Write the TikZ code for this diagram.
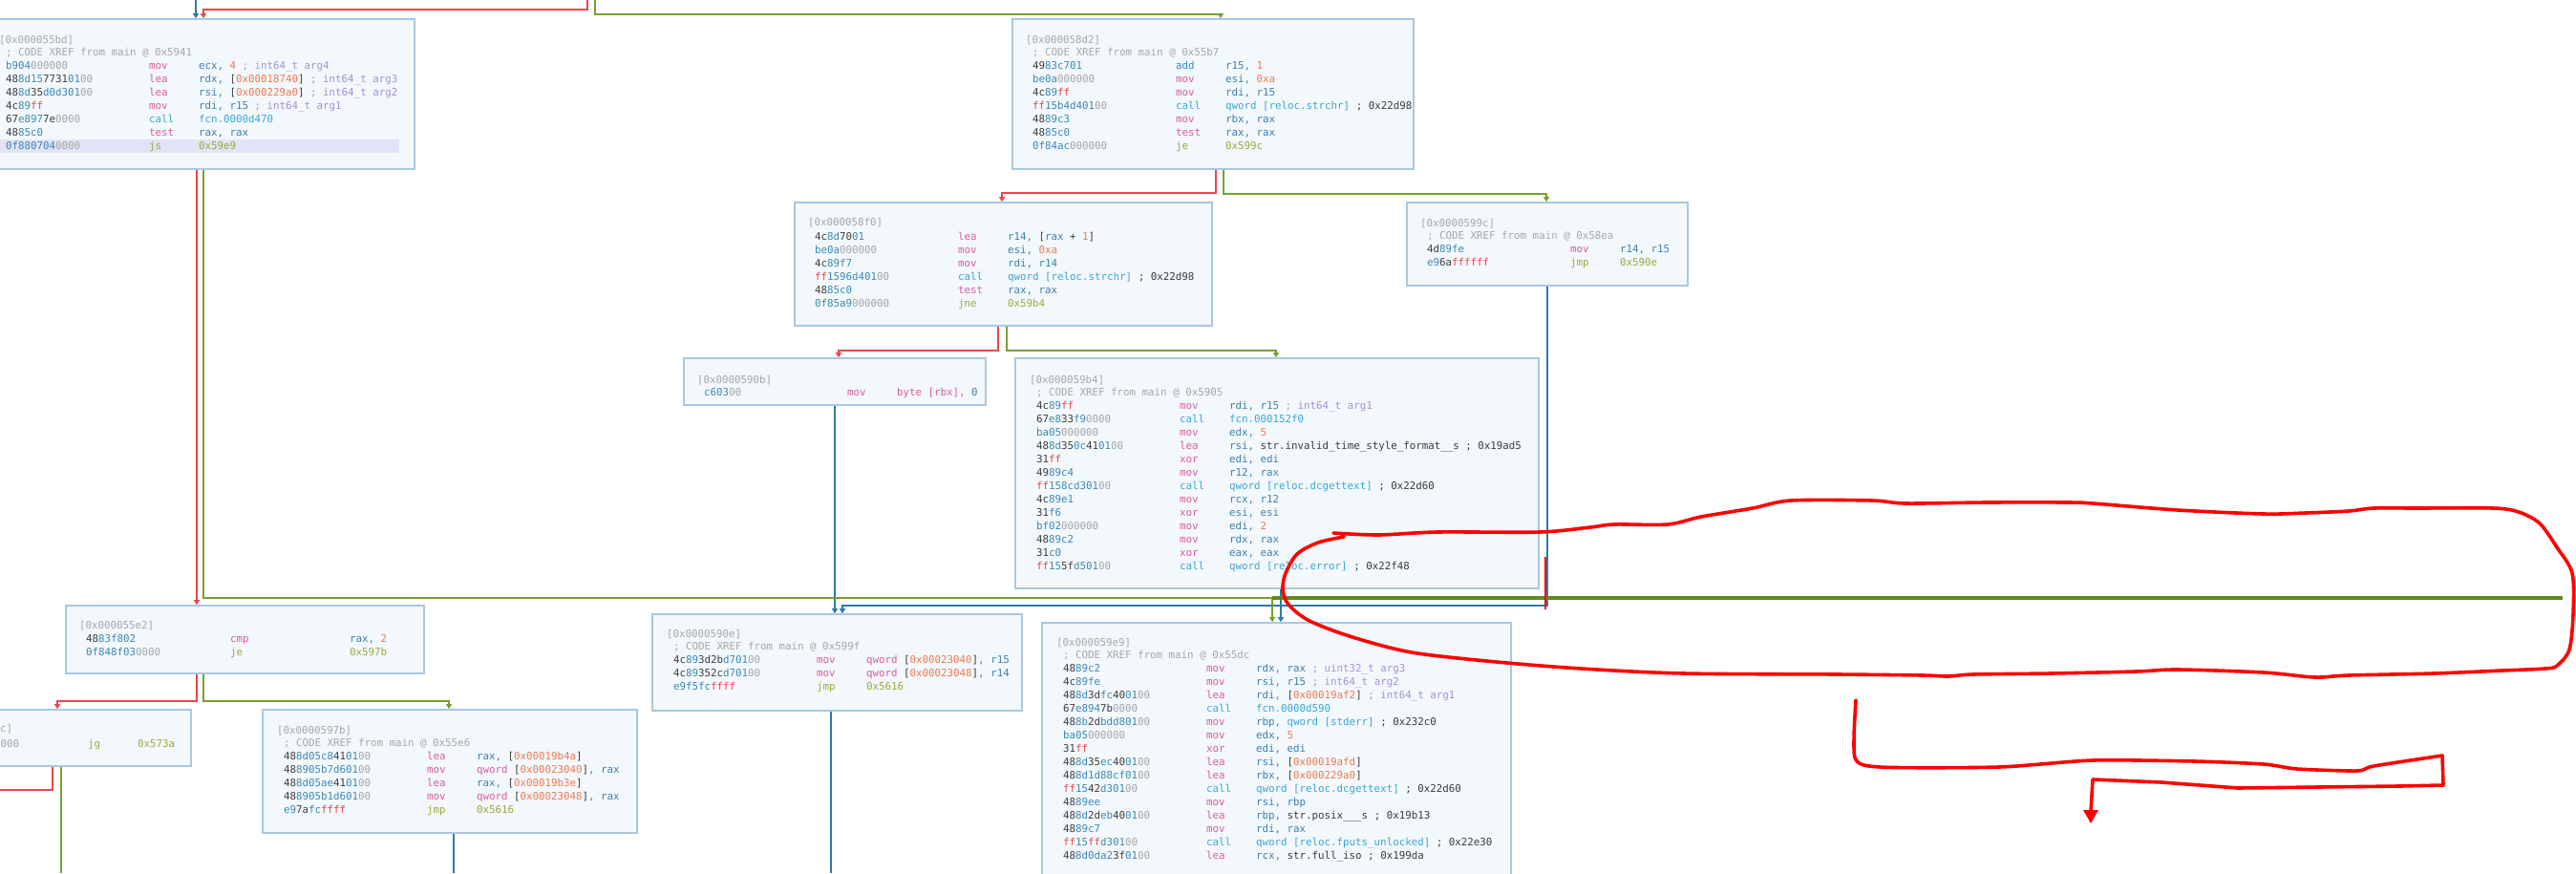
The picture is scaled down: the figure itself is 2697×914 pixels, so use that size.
\documentclass[tikz,border=0pt]{standalone}
\usepackage{fontspec}
\setmonofont{DejaVu Sans Mono}
\usetikzlibrary{arrows.meta,fit}
\definecolor{hgray}{HTML}{A4A4A4}
\definecolor{hred}{HTML}{E5484D}
\definecolor{hdark}{HTML}{3C3C3C}
\definecolor{hblue}{HTML}{3A88B5}
\definecolor{kpink}{HTML}{DC5AA0}
\definecolor{kcall}{HTML}{3AA6D6}
\definecolor{kjmp}{HTML}{8FAF3A}
\definecolor{kadd}{HTML}{2E86C1}
\definecolor{kreg}{HTML}{3C7FAE}
\definecolor{knum}{HTML}{F07850}
\definecolor{kcom}{HTML}{A58FD8}
\definecolor{kdk}{HTML}{3A3A3A}
\definecolor{khdr}{HTML}{A6A6A6}
\definecolor{boxfill}{HTML}{F3F8FC}
\definecolor{boxline}{HTML}{A9C7E0}
\definecolor{hlcol}{HTML}{E3E3F7}
\definecolor{cblue}{HTML}{2C7BAA}
\definecolor{cred}{HTML}{E8474C}
\definecolor{cgreen}{HTML}{78A030}
\definecolor{cgreendk}{HTML}{5E8A1E}
\definecolor{scrib}{HTML}{FF0000}
\makeatletter
\def\hxstop{\hxstop}
\def\hx@zz{00}\def\hx@ff{ff}
\newcommand\Hx[1]{\hx@loop#1\hxstop\hxstop}
\def\hx@loop#1#2{%
  \ifx\hxstop#1%
  \else
    \hx@pair#1#2%
    \expandafter\hx@loop
  \fi}
\def\hx@pair#1#2{%
  \def\hx@a{#1#2}%
  \ifx\hx@a\hx@zz \textcolor{hgray}{#1#2}%
  \else\ifx\hx@a\hx@ff \textcolor{hred}{#1#2}%
  \else\ifnum`#1>`1 \ifnum`#1<`8 \textcolor{hdark}{#1#2}\else\textcolor{hblue}{#1#2}\fi
  \else\textcolor{hblue}{#1#2}\fi\fi\fi}
\makeatother
\newcommand\kMov[1]{\textcolor{kpink}{#1}}
\newcommand\kCall[1]{\textcolor{kcall}{#1}}
\newcommand\kJmp[1]{\textcolor{kjmp}{#1}}
\newcommand\kAdd[1]{\textcolor{kadd}{#1}}
\newcommand\kReg[1]{\textcolor{kreg}{#1}}
\newcommand\kNum[1]{\textcolor{knum}{#1}}
\newcommand\kCom[1]{\textcolor{kcom}{#1}}
\newcommand\kDk[1]{\textcolor{kdk}{#1}}
\newcommand\kFn[1]{\textcolor{kcall}{#1}}
\newcommand\kAd[1]{\kDk{[}\kNum{#1}\kDk{]}}
\newcommand\LL[3]{\makebox[150pt][l]{\Hx{#1}}\makebox[52pt][l]{#2}#3}
\newcommand\LLw[3]{\makebox[151pt][l]{\Hx{#1}}\makebox[125pt][l]{#2}#3}
\tikzset{
  code/.style={anchor=west,inner sep=0pt,text height=7.8pt,text depth=0pt,
    font=\ttfamily\fontsize{10.8}{13}\selectfont},
  hdr/.style={code,text=khdr},
  blk/.style={draw=boxline,fill=boxfill,line width=1.6pt,inner sep=0pt},
  tipx/.style={-{Triangle[width=6pt,length=5pt]}},
  eblue/.style={draw=cblue,line width=2.6pt},
  ered/.style={draw=cred,line width=2.6pt},
  egreen/.style={draw=cgreen,line width=2.6pt},
  scribble/.style={draw=scrib,line width=3.6pt,line cap=round,line join=round}
}
\begin{document}
\begin{tikzpicture}[x=1pt,y=-1pt]
\useasboundingbox (0,0) rectangle (2697,914);
\clip (0,0) rectangle (2697,914);
\fill[white] (0,0) rectangle (2697,914);

% ---------- boxes ----------
\coordinate (Anw) at (-15,20);   \coordinate (Ase) at (434,177);
\coordinate (Bnw) at (1060,20);  \coordinate (Bse) at (1480,177);
\coordinate (Cnw) at (832,212);  \coordinate (Cse) at (1269,341);
\coordinate (Dnw) at (1473,212); \coordinate (Dse) at (1767,299);
\coordinate (Enw) at (716,375);  \coordinate (Ese) at (1032,424);
\coordinate (Fnw) at (1063,375); \coordinate (Fse) at (1611,616);
\coordinate (Gnw) at (69,634);   \coordinate (Gse) at (444,705);
\coordinate (Hnw) at (-140,743); \coordinate (Hse) at (200,802);
\coordinate (Inw) at (275,743);  \coordinate (Ise) at (667,872);
\coordinate (Knw) at (683,643);  \coordinate (Kse) at (1070,744);
\coordinate (Jnw) at (1091,652); \coordinate (Jse) at (1582,950);
\foreach \b in {A,B,C,D,E,F,G,H,I,K,J}{\node[blk,fit=(\b nw)(\b se)] (\b) {};}
\fill[hlcol] (-10,146) rectangle (418,160);

% ---------- block A 0x55bd ----------
\node[hdr] (Ah) at (-1,42) {[0x000055bd]};
\node[hdr] (Ax) at (6,55) {; CODE XREF from main @ 0x5941};
\node[code] (A1) at (6,69) {\LL{b904000000}{\kMov{mov}}{\kReg{ecx,} \kNum{4} \kCom{; int64\_t arg4}}};
\node[code] (A2) at (6,83) {\LL{488d1577310100}{\kMov{lea}}{\kReg{rdx,} \kAd{0x00018740} \kCom{; int64\_t arg3}}};
\node[code] (A3) at (6,97) {\LL{488d35d0d30100}{\kMov{lea}}{\kReg{rsi,} \kAd{0x000229a0} \kCom{; int64\_t arg2}}};
\node[code] (A4) at (6,111) {\LL{4c89ff}{\kMov{mov}}{\kReg{rdi, r15} \kCom{; int64\_t arg1}}};
\node[code] (A5) at (6,125) {\LL{67e8977e0000}{\kCall{call}}{\kFn{fcn.0000d470}}};
\node[code] (A6) at (6,139) {\LL{4885c0}{\kMov{test}}{\kReg{rax, rax}}};
\node[code] (A7) at (6,153) {\LL{0f8807040000}{\kJmp{js}}{\kJmp{0x59e9}}};

% ---------- block B 0x58d2 ----------
\node[hdr] (Bh) at (1074,42) {[0x000058d2]};
\node[hdr] (Bx) at (1081,55) {; CODE XREF from main @ 0x55b7};
\node[code] (B1) at (1081,69) {\LL{4983c701}{\kAdd{add}}{\kReg{r15,} \kNum{1}}};
\node[code] (B2) at (1081,83) {\LL{be0a000000}{\kMov{mov}}{\kReg{esi,} \kNum{0xa}}};
\node[code] (B3) at (1081,97) {\LL{4c89ff}{\kMov{mov}}{\kReg{rdi, r15}}};
\node[code] (B4) at (1081,111) {\LL{ff15b4d40100}{\kCall{call}}{\kFn{qword [reloc.strchr]} \kDk{; 0x22d98}}};
\node[code] (B5) at (1081,125) {\LL{4889c3}{\kMov{mov}}{\kReg{rbx, rax}}};
\node[code] (B6) at (1081,139) {\LL{4885c0}{\kMov{test}}{\kReg{rax, rax}}};
\node[code] (B7) at (1081,153) {\LL{0f84ac000000}{\kJmp{je}}{\kJmp{0x599c}}};

% ---------- block C 0x58f0 ----------
\node[hdr] (Ch) at (846,233) {[0x000058f0]};
\node[code] (C1) at (853,248) {\LL{4c8d7001}{\kMov{lea}}{\kReg{r14,} \kDk{[}\kReg{rax} \kDk{+} \kNum{1}\kDk{]}}};
\node[code] (C2) at (853,262) {\LL{be0a000000}{\kMov{mov}}{\kReg{esi,} \kNum{0xa}}};
\node[code] (C3) at (853,276) {\LL{4c89f7}{\kMov{mov}}{\kReg{rdi, r14}}};
\node[code] (C4) at (853,290) {\LL{ff1596d40100}{\kCall{call}}{\kFn{qword [reloc.strchr]} \kDk{; 0x22d98}}};
\node[code] (C5) at (853,304) {\LL{4885c0}{\kMov{test}}{\kReg{rax, rax}}};
\node[code] (C6) at (853,318) {\LL{0f85a9000000}{\kJmp{jne}}{\kJmp{0x59b4}}};

% ---------- block D 0x599c ----------
\node[hdr] (Dh) at (1487,234) {[0x0000599c]};
\node[hdr] (Dx) at (1494,247) {; CODE XREF from main @ 0x58ea};
\node[code] (D1) at (1494,261) {\LL{4d89fe}{\kMov{mov}}{\kReg{r14, r15}}};
\node[code] (D2) at (1494,275) {\LL{e96affffff}{\kJmp{jmp}}{\kJmp{0x590e}}};

% ---------- block E 0x590b ----------
\node[hdr] (Eh) at (730,398) {[0x0000590b]};
\node[code] (E1) at (737,411) {\LL{c60300}{\kMov{mov}}{\kMov{byte [rbx],} \kReg{0}}};

% ---------- block F 0x59b4 ----------
\node[hdr] (Fh) at (1078,398) {[0x000059b4]};
\node[hdr] (Fx) at (1085,411) {; CODE XREF from main @ 0x5905};
\node[code] (F1) at (1085,425) {\LL{4c89ff}{\kMov{mov}}{\kReg{rdi, r15} \kCom{; int64\_t arg1}}};
\node[code] (F2) at (1085,439) {\LL{67e833f90000}{\kCall{call}}{\kFn{fcn.000152f0}}};
\node[code] (F3) at (1085,453) {\LL{ba05000000}{\kMov{mov}}{\kReg{edx,} \kNum{5}}};
\node[code] (F4) at (1085,467) {\LL{488d350c410100}{\kMov{lea}}{\kReg{rsi,} \kDk{str.invalid\_time\_style\_format\_\_s ; 0x19ad5}}};
\node[code] (F5) at (1085,481) {\LL{31ff}{\kMov{xor}}{\kReg{edi, edi}}};
\node[code] (F6) at (1085,495) {\LL{4989c4}{\kMov{mov}}{\kReg{r12, rax}}};
\node[code] (F7) at (1085,509) {\LL{ff158cd30100}{\kCall{call}}{\kFn{qword [reloc.dcgettext]} \kDk{; 0x22d60}}};
\node[code] (F8) at (1085,523) {\LL{4c89e1}{\kMov{mov}}{\kReg{rcx, r12}}};
\node[code] (F9) at (1085,537) {\LL{31f6}{\kMov{xor}}{\kReg{esi, esi}}};
\node[code] (F10) at (1085,551) {\LL{bf02000000}{\kMov{mov}}{\kReg{edi,} \kNum{2}}};
\node[code] (F11) at (1085,565) {\LL{4889c2}{\kMov{mov}}{\kReg{rdx, rax}}};
\node[code] (F12) at (1085,579) {\LL{31c0}{\kMov{xor}}{\kReg{eax, eax}}};
\node[code] (F13) at (1085,593) {\LL{ff155fd50100}{\kCall{call}}{\kFn{qword [reloc.error]} \kDk{; 0x22f48}}};

% ---------- block G 0x55e2 ----------
\node[hdr] (Gh) at (83,655) {[0x000055e2]};
\node[code] (G1) at (90,669) {\LLw{4883f802}{\kMov{cmp}}{\kReg{rax,} \kNum{2}}};
\node[code] (G2) at (90,683) {\LLw{0f848f030000}{\kJmp{je}}{\kJmp{0x597b}}};

% ---------- block H 0x55ec ----------
\node[hdr] (Hh) at (-65,763) {[0x000055ec]};
\node[code] (H1) at (-58,779) {\LL{0f8f48010000}{\kJmp{jg}}{\kJmp{0x573a}}};

% ---------- block I 0x597b ----------
\node[hdr] (Ih) at (290,765) {[0x0000597b]};
\node[hdr] (Ix) at (297,778) {; CODE XREF from main @ 0x55e6};
\node[code] (I1) at (297,792) {\LL{488d05c8410100}{\kMov{lea}}{\kReg{rax,} \kAd{0x00019b4a}}};
\node[code] (I2) at (297,806) {\LL{488905b7d60100}{\kMov{mov}}{\kMov{qword} \kAd{0x00023040}\kReg{, rax}}};
\node[code] (I3) at (297,820) {\LL{488d05ae410100}{\kMov{lea}}{\kReg{rax,} \kAd{0x00019b3e}}};
\node[code] (I4) at (297,834) {\LL{488905b1d60100}{\kMov{mov}}{\kMov{qword} \kAd{0x00023048}\kReg{, rax}}};
\node[code] (I5) at (297,848) {\LL{e97afcffff}{\kJmp{jmp}}{\kJmp{0x5616}}};

% ---------- block K 0x590e ----------
\node[hdr] (Kh) at (698,664) {[0x0000590e]};
\node[hdr] (Kx) at (705,677) {; CODE XREF from main @ 0x599f};
\node[code] (K1) at (705,691) {\LL{4c893d2bd70100}{\kMov{mov}}{\kMov{qword} \kAd{0x00023040}\kReg{, r15}}};
\node[code] (K2) at (705,705) {\LL{4c89352cd70100}{\kMov{mov}}{\kMov{qword} \kAd{0x00023048}\kReg{, r14}}};
\node[code] (K3) at (705,719) {\LL{e9f5fcffff}{\kJmp{jmp}}{\kJmp{0x5616}}};

% ---------- block J 0x59e9 ----------
\node[hdr] (Jh) at (1106,673) {[0x000059e9]};
\node[hdr] (Jx) at (1113,686) {; CODE XREF from main @ 0x55dc};
\node[code] (J1) at (1113,700) {\LL{4889c2}{\kMov{mov}}{\kReg{rdx, rax} \kCom{; uint32\_t arg3}}};
\node[code] (J2) at (1113,714) {\LL{4c89fe}{\kMov{mov}}{\kReg{rsi, r15} \kCom{; int64\_t arg2}}};
\node[code] (J3) at (1113,728) {\LL{488d3dfc400100}{\kMov{lea}}{\kReg{rdi,} \kAd{0x00019af2} \kCom{; int64\_t arg1}}};
\node[code] (J4) at (1113,742) {\LL{67e8947b0000}{\kCall{call}}{\kFn{fcn.0000d590}}};
\node[code] (J5) at (1113,756) {\LL{488b2dbdd80100}{\kMov{mov}}{\kReg{rbp,} \kFn{qword [stderr]} \kDk{; 0x232c0}}};
\node[code] (J6) at (1113,770) {\LL{ba05000000}{\kMov{mov}}{\kReg{edx,} \kNum{5}}};
\node[code] (J7) at (1113,784) {\LL{31ff}{\kMov{xor}}{\kReg{edi, edi}}};
\node[code] (J8) at (1113,798) {\LL{488d35ec400100}{\kMov{lea}}{\kReg{rsi,} \kAd{0x00019afd}}};
\node[code] (J9) at (1113,812) {\LL{488d1d88cf0100}{\kMov{lea}}{\kReg{rbx,} \kAd{0x000229a0}}};
\node[code] (J10) at (1113,826) {\LL{ff1542d30100}{\kCall{call}}{\kFn{qword [reloc.dcgettext]} \kDk{; 0x22d60}}};
\node[code] (J11) at (1113,840) {\LL{4889ee}{\kMov{mov}}{\kReg{rsi, rbp}}};
\node[code] (J12) at (1113,854) {\LL{488d2deb400100}{\kMov{lea}}{\kReg{rbp,} \kDk{str.posix\_\_\_s ; 0x19b13}}};
\node[code] (J13) at (1113,868) {\LL{4889c7}{\kMov{mov}}{\kReg{rdi, rax}}};
\node[code] (J14) at (1113,882) {\LL{ff15ffd30100}{\kCall{call}}{\kFn{qword [reloc.fputs\_unlocked]} \kDk{; 0x22e30}}};
\node[code] (J15) at (1113,896) {\LL{488d0da23f0100}{\kMov{lea}}{\kReg{rcx,} \kDk{str.full\_iso ; 0x199da}}};

% ---------- connectors ----------
\coordinate (inA) at (205,0);
\coordinate (topR) at (615,0);
\coordinate (topG) at (623,0);
\coordinate (offH) at (0,827);
\coordinate (offHg) at (64,914);
\coordinate (offI) at (475,914);
\coordinate (offK) at (870,914);
\coordinate (offGr) at (2683,626);
\draw[eblue,tipx] (inA) -- (A.north -| inA);
\draw[ered,tipx] (topR) |- (213,10) -- (A.north -| 213,0);
\draw[egreen,tipx] (topG) |- (1278,15) -- (B.north -| 1278,0);
\draw[ered,tipx] (B.south -| 1273,0) |- (1049,202) -- (C.north -| 1049,0);
\draw[egreen,tipx] (B.south -| 1281,0) |- (1619,203) -- (D.north -| 1619,0);
\draw[ered,tipx] (C.south -| 1045,0) |- (878,367) -- (E.north -| 878,0);
\draw[egreen,tipx] (C.south -| 1054,0) |- (1336,367) -- (F.north -| 1336,0);
\draw[eblue,tipx] (E.south -| 874,0) -- (K.north -| 874,0);
\draw[eblue,tipx] (D.south -| 1620,0) |- (882,634) -- (K.north -| 882,0);
\draw[eblue,tipx] (F.south -| 1341,0) -- (J.north -| 1341,0);
\draw[ered,tipx] (A.south -| 206,0) -- (G.north -| 206,0);
\draw[egreen,tipx] (A.south -| 213,0) |- (1332,626) -- (J.north -| 1332,0);
\draw[draw=cgreendk,line width=3.4pt] (1332,626) -- (offGr);
\draw[ered,tipx] (G.south -| 206,0) |- (60,734) -- (H.north -| 60,0);
\draw[egreen,tipx] (G.south -| 213,0) |- (470,734) -- (I.north -| 470,0);
\draw[ered] (H.south -| 55,0) |- (offH);
\draw[egreen] (H.south -| 64,0) -- (offHg);
\draw[eblue] (I.south -| 475,0) -- (offI);
\draw[eblue] (K.south -| 870,0) -- (offK);

% ---------- red hand-drawn marks ----------
\coordinate (rs1) at (1618,583);
\coordinate (rs2) at (1618,638);
\draw[draw=scrib,line width=2.4pt] (rs1) -- (rs2);
\draw[scribble] plot[smooth,tension=0.5] coordinates {
 (1396,558) (1443,560) (1505,557) (1612,557) (1665,552) (1690,549) (1746,549)
 (1781,541) (1835,532) (1875,524) (1960,524) (1995,527) (2080,526) (2165,526)
 (2191,527) (2280,534) (2370,538) (2414,537) (2459,535) (2485,532) (2530,532)
 (2610,532) (2637,536) (2659,548) (2677,573) (2693,600) (2694,643) (2690,680)
 (2677,697) (2664,700) (2619,702) (2548,705) (2459,707) (2423,709) (2370,704)
 (2280,701) (2236,703) (2147,705) (2066,706) (2040,708) (2013,707) (1924,706)
 (1763,705) (1656,700) (1567,693) (1478,683) (1416,667) (1371,650) (1349,633)
 (1343,617) (1346,600) (1358,580) (1380,568) (1407,562)};
\draw[scribble] plot[smooth,tension=0.4] coordinates {
 (1943,733) (1942,793) (1968,803) (2093,803) (2191,796) (2298,797) (2370,800)
 (2405,805) (2468,807) (2485,802) (2557,791)};
\draw[scribble] (2557,791) -- (2558,822) -- (2512,823) -- (2343,825) -- (2263,819) -- (2191,816) -- (2189,850);
\fill[scrib] (2181,848) -- (2197,848) -- (2189,862) -- cycle;
\end{tikzpicture}
\end{document}
